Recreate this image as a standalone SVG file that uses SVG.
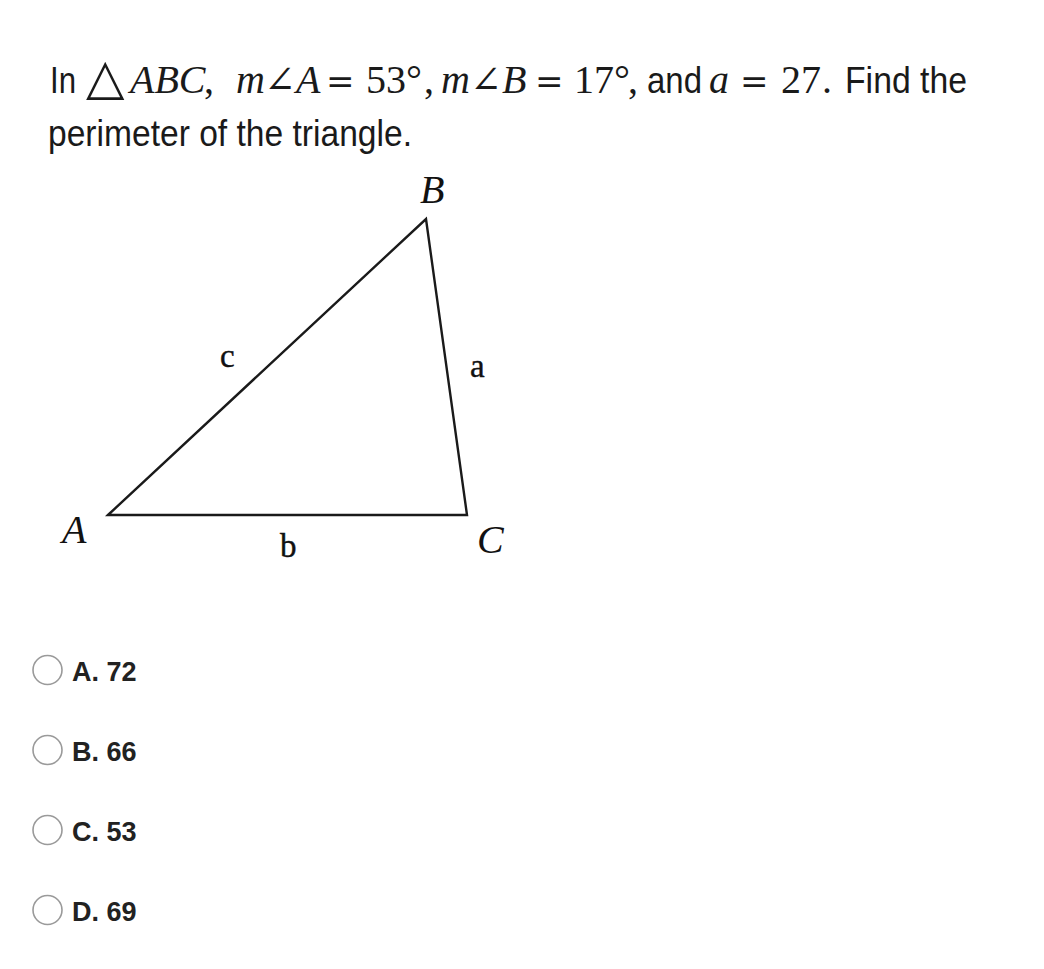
<svg xmlns="http://www.w3.org/2000/svg" width="1044" height="969" viewBox="0 0 1044 969">
<style>
.sans{font-family:"Liberation Sans",Arial,Helvetica,sans-serif;font-size:36px;fill:#1a1a1a}
.ser{font-family:"Liberation Serif","Times New Roman",serif;font-size:40px;fill:#1a1a1a}
.it{font-style:italic}
.sym{font-family:"DejaVu Serif","DejaVu Sans",serif;font-size:38px;fill:#1a1a1a}
.eq{font-family:"DejaVu Serif","DejaVu Sans",serif;font-size:34px;fill:#1a1a1a}
.lbl{font-family:"Liberation Serif","Times New Roman",serif;font-size:33px;fill:#111;stroke:#111;stroke-width:0.4}
.vl{font-family:"Liberation Serif","Times New Roman",serif;font-size:40px;font-style:italic;fill:#111}
.opt{font-family:"Liberation Sans",Arial,Helvetica,sans-serif;font-size:27px;font-weight:bold;fill:#222}
.radio{fill:#fff;stroke:#9a9a9a;stroke-width:1.6}
.tri{fill:none;stroke:#1a1a1a;stroke-width:2.4;stroke-linejoin:miter}
</style>
<rect width="1044" height="969" fill="#fff"/>
<g id="question">
<text class="sans" x="50" y="93" textLength="26" lengthAdjust="spacingAndGlyphs">In</text>
<text x="86" y="94" style="font-family:'DejaVu Sans',sans-serif;font-size:50px;fill:#1a1a1a">△</text>
<text class="ser it" x="130" y="93">ABC</text>
<text class="ser" x="204" y="93">,</text>
<text class="ser it" x="236" y="93">m</text>
<text class="sym" x="264" y="93">∠</text>
<text class="ser it" x="296" y="93">A</text>
<text class="eq" x="326" y="93">=</text>
<text class="ser" x="366" y="93">53°</text>
<text class="ser" x="424" y="93">,</text>
<text class="ser it" x="441" y="93">m</text>
<text class="sym" x="470" y="93">∠</text>
<text class="ser it" x="502" y="93">B</text>
<text class="eq" x="535" y="93">=</text>
<text class="ser" x="574" y="93">17°</text>
<text class="ser" x="628" y="93">,</text>
<text class="sans" x="647" y="93" textLength="55" lengthAdjust="spacingAndGlyphs">and</text>
<text class="ser it" x="709" y="93">a</text>
<text class="eq" x="740" y="93">=</text>
<text class="ser" x="781" y="93">27</text>
<text class="ser" x="822" y="93">.</text>
<text class="sans" x="845" y="93" textLength="122" lengthAdjust="spacingAndGlyphs">Find the</text>
<text class="sans" x="48" y="146" textLength="364" lengthAdjust="spacingAndGlyphs">perimeter of the triangle.</text>
</g>
<g id="connectors">
<polygon class="tri" points="108,515 426,219 467,515"/>
</g>
<g id="vertex-A"><text class="vl" x="62" y="543">A</text></g>
<g id="vertex-B"><text class="vl" x="420" y="203">B</text></g>
<g id="vertex-C"><text class="vl" x="477" y="553">C</text></g>
<g id="side-a"><text class="lbl" x="470" y="377">a</text></g>
<g id="side-b"><text class="lbl" x="280" y="557">b</text></g>
<g id="side-c"><text class="lbl" x="220" y="367">c</text></g>
<g id="option-A"><circle class="radio" cx="47.5" cy="670" r="14.5"/><text class="opt" x="72" y="681">A. 72</text></g>
<g id="option-B"><circle class="radio" cx="47.5" cy="750" r="14.5"/><text class="opt" x="72" y="761">B. 66</text></g>
<g id="option-C"><circle class="radio" cx="47.5" cy="830" r="14.5"/><text class="opt" x="72" y="841">C. 53</text></g>
<g id="option-D"><circle class="radio" cx="47.5" cy="910" r="14.5"/><text class="opt" x="72" y="921">D. 69</text></g>
</svg>
